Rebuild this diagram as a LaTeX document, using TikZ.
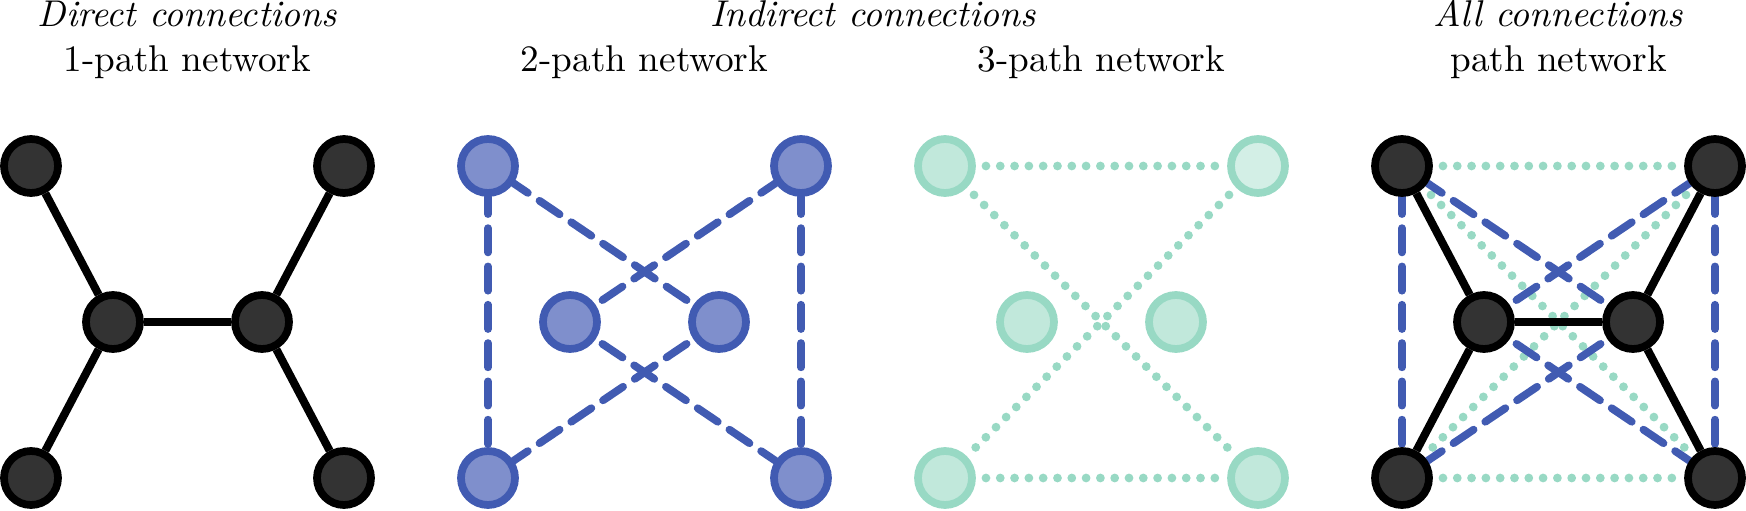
\documentclass[tikz,border=0pt]{standalone}
\usepackage{tikz}
\usetikzlibrary{backgrounds}

\definecolor{netblack}{HTML}{333333}
\definecolor{netblue}{HTML}{415BB2}
\definecolor{netbluefill}{HTML}{7F8FCC}
\definecolor{netgreen}{HTML}{98D9C4}
\definecolor{netgreenfill}{HTML}{C1E8DB}
\definecolor{netgreenpale}{HTML}{D3EFE6}

\tikzset{
  vtx/.style = {circle, minimum size=0.54cm, inner sep=0pt, line width=2.2pt},
  vblack/.style = {vtx, draw=black, fill=netblack},
  vblue/.style = {vtx, draw=netblue, fill=netbluefill},
  vgreen/.style = {vtx, draw=netgreen, fill=netgreenfill},
  vpale/.style = {vtx, draw=netgreen, fill=netgreenpale},
  onepath/.style = {line width=2.3pt, black},
  twopath/.style = {line width=2.2pt, netblue, line cap=round, dash pattern=on 6.9pt off 4pt, dash phase=2pt},
  threepath/.style = {line width=2.5pt, netgreen, line cap=round, dash pattern=on 0pt off 4.07pt, dash phase=1.2pt},
  toptext/.style = {anchor=base, font=\fontsize{10.6}{12.7}\selectfont\itshape},
  subtext/.style = {anchor=base, font=\fontsize{10.6}{12.7}\selectfont}
}

\begin{document}
\begin{tikzpicture}

\useasboundingbox (0,0) rectangle (17.46,5.11);

% vertices of the four networks
\foreach \p/\x/\s/\t in {1/0.31/vblack/vblack,2/4.88/vblue/vblue,3/9.45/vgreen/vpale,4/14.02/vblack/vblack}
{
\node[\s] (tl\p) at (\x,3.45) {};
\node[\t] (tr\p) at (\x+3.13,3.45) {};
\node[\s] (ml\p) at (\x+0.82,1.89) {};
\node[\s] (mr\p) at (\x+2.31,1.89) {};
\node[\s] (bl\p) at (\x,0.33) {};
\node[\s] (br\p) at (\x+3.13,0.33) {};
}

% connections
\begin{scope}[on background layer]
\foreach \p in {3,4}
\foreach \a/\b in {tl/tr,bl/br,tl/br,tr/bl}
{\draw[threepath] (\a\p) -- (\b\p);}

\foreach \p in {2,4}
\foreach \a/\b in {tl/bl,tr/br,tl/mr,tr/ml,bl/mr,br/ml}
{\draw[twopath] (\a\p) -- (\b\p);}

\foreach \p in {1,4}
\foreach \a/\b in {tl/ml,bl/ml,ml/mr,mr/tr,mr/br}
{\draw[onepath] (\a\p) -- (\b\p);}
\end{scope}

% titles
\node[toptext] (direct) at (1.875,4.84) {Direct connections};
\node[subtext] (net1) at (1.875,4.39) {1-path network};
\node[toptext] (indirect) at (8.73,4.84) {Indirect connections};
\node[subtext] (net2) at (6.445,4.39) {2-path network};
\node[subtext] (net3) at (11.015,4.39) {3-path network};
\node[toptext] (all) at (15.585,4.84) {All connections};
\node[subtext] (net4) at (15.585,4.39) {path network};

\end{tikzpicture}
\end{document}
